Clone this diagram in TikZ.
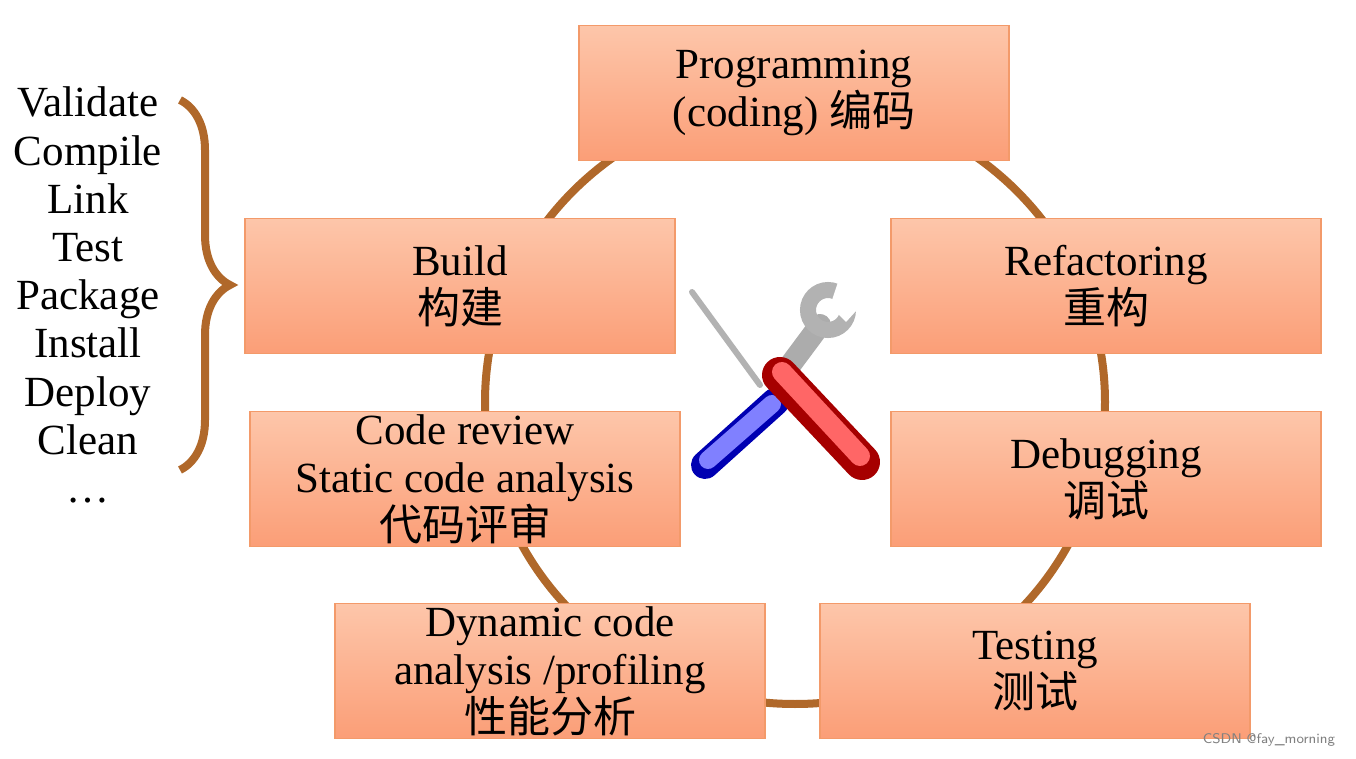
\documentclass[tikz,border=0pt]{standalone}
\usepackage{fontspec}
\setmainfont{Liberation Serif}
\newfontfamily\cjk{Noto Sans CJK SC}
\usetikzlibrary{decorations.pathreplacing,calc}
\definecolor{brn}{HTML}{B0682A}
\definecolor{btop}{HTML}{FDC6AA}
\definecolor{bbot}{HTML}{FB9E77}
\definecolor{bdr}{HTML}{F39A6A}
\begin{document}
\begin{tikzpicture}[x=0.5pt,y=-0.5pt,
  box/.style={draw=bdr,line width=0.6pt,top color=btop,bottom color=bbot,minimum width=215pt,minimum height=67.5pt,align=center,font=\fontsize{21.5}{24}\selectfont,inner sep=0pt},
  lst/.style={font=\fontsize{21.5}{24}\selectfont,inner sep=0pt,anchor=base}]
\useasboundingbox (0,0) rectangle (1356,759);
\fill[white] (0,0) rectangle (1356,759);
\draw[brn,line width=4pt] (795,402) ellipse [x radius=310, y radius=302];
\node[box] (prog) at (794,93) {Programming\\(coding) {\cjk 编码}};
\node[box] (build) at (460,286) {Build\\{\cjk 构建}};
\node[box] (refac) at (1106,286) {Refactoring\\{\cjk 重构}};
\node[box] (rev) at (465,479) {Code review\\Static code analysis\\{\cjk 代码评审}};
\node[box] (dbg) at (1106,479) {Debugging\\{\cjk 调试}};
\node[box] (dyn) at (550,671) {Dynamic code\\analysis /profiling\\{\cjk 性能分析}};
\node[box] (test) at (1035,671) {Testing\\{\cjk 测试}};
\foreach \t [count=\i from 0] in {Validate,Compile,Link,Test,Package,Install,Deploy,Clean,\dots}
  \node[lst] (l\i) at (88,{117+48.2*\i}) {\t};
\coordinate (ba) at (180,100);
\coordinate (bb) at (180,470);
\draw[brn,line width=4pt,decorate,decoration={brace,amplitude=25pt}] (ba) -- (bb);
\node[font=\fontsize{7}{8}\sffamily,text=gray,anchor=east] (wm) at (1342,740) {CSDN @fay\_morning};
% tools
\draw[line width=3pt,gray!60,line cap=round] (692,292) -- (760,385);
\draw[line width=14pt,blue!70!black,line cap=round] (775,402) -- (705,465);
\draw[line width=9pt,blue!50,line cap=round] (772,404) -- (708,460);
\draw[line width=11pt,gray!65,line cap=round] (785,372) -- (820,325);
\draw[gray!60,line width=8pt] (828,310) circle (20);
\fill[white] (838,282) -- (866,300) -- (846,322) -- (830,306) -- cycle;
\draw[line width=18pt,red!65!black,line cap=round] (780,375) -- (862,462);
\draw[line width=10pt,red!60,line cap=round] (782,372) -- (860,456);
\end{tikzpicture}
\end{document}
